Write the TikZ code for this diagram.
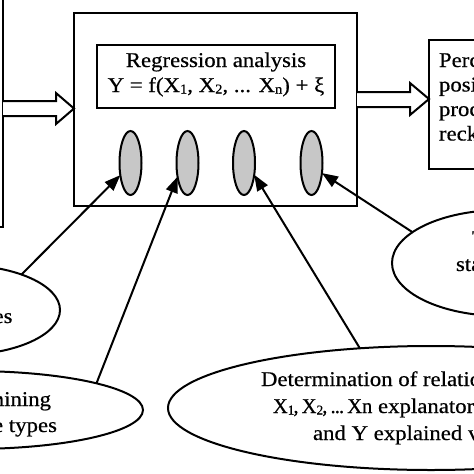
\documentclass[tikz,border=0pt]{standalone}
\usepackage{graphicx}
\usepackage{fontspec}
\setmainfont{Liberation Serif}[FakeStretch=1.085,FakeBold=0.5]
\usetikzlibrary{arrows.meta,shapes.geometric}
\newcommand\subx[1]{\raisebox{-1.5pt}{\fontsize{13.5}{13.5}\selectfont #1}}
\begin{document}
\begin{tikzpicture}[x=1pt,y=-1pt, line width=2pt,
  boxnode/.style={draw, rectangle, inner sep=0pt, outer sep=0pt, fill=white},
  gell/.style={draw, ellipse, fill=black!22, minimum width=22pt, minimum height=64pt, inner sep=0pt, outer sep=0pt},
  oval/.style={draw, ellipse, inner sep=0pt, outer sep=0pt, fill=white},
  txt/.style={inner sep=0pt, font=\fontsize{21}{25}\selectfont},
  conn/.style={-{Triangle[length=16pt,width=12pt]}, line width=2pt},
  barrow/.style={draw, fill=white, line width=2pt, line join=miter}]
\useasboundingbox (0,0) rectangle (474,474);
\fill[white] (0,0) rectangle (474,474);
\clip (0,0) rectangle (474,474);
% boxes
\node[boxnode, minimum width=100pt, minimum height=260pt] (src) at (-47,97) {};
\node[boxnode, minimum width=283pt, minimum height=193pt] (main) at (215.5,109.5) {};
\node[boxnode, minimum width=238pt, minimum height=63pt] (reg) at (216,76.5) {};
\node[boxnode, minimum width=140pt, minimum height=129pt] (res) at (499,104.5) {};
% block arrows
\coordinate (a1) at (src.east |- 0,101);
\coordinate (a2) at (main.east |- 0,92);
\draw[barrow] (a1) -- (56,101) -- (56,93) -- (main.west |- 0,108.5) -- (56,124) -- (56,116) -- (src.east |- 0,116);
\draw[barrow] (a2) -- (410,92) -- (410,83) -- (res.west |- 0,99) -- (410,115) -- (410,107) -- (main.east |- 0,107);
% gray ellipses
\node[gell] (g1) at (130.5,163) {};
\node[gell] (g2) at (187.5,163) {};
\node[gell] (g3) at (244,163) {};
\node[gell] (g4) at (311.5,163) {};
% ovals
\node[oval, minimum width=200pt, minimum height=90pt] (ov1) at (-40,310) {};
\node[oval, minimum width=344pt, minimum height=78pt] (ov2) at (-29,410) {};
\node[oval, minimum width=526pt, minimum height=124pt] (ov3) at (431,408) {};
\node[oval, minimum width=220pt, minimum height=106pt] (ov4) at (502,263) {};
% connectors
\draw[conn] (ov1.30) -- (g1.230);
\draw[conn] (ov2.12) -- (g2.234);
\draw[conn] (ov3.140) -- (g3.311);
\draw[conn] (ov4.161) -- (g4.316);
% texts
\node[txt, anchor=base] (r1) at (216,67) {Regression analysis};
\node[txt, anchor=base] (r2) at (216,92) {Y = f(X\subx{1}, X\subx{2}, ... X\subx{n}) + ξ};
\node[txt, anchor=base west] (p1) at (438,67) {Percentage of};
\node[txt, anchor=base west] (p2) at (438,91.5) {positive};
\node[txt, anchor=base west] (p3) at (438,116) {process};
\node[txt, anchor=base west] (p4) at (438,140.5) {reckoning};
\node[txt, anchor=base east] (t1) at (13.5,323) {variables};
\node[txt, anchor=base east] (t2) at (52,406) {Determining};
\node[txt, anchor=base east] (t3) at (58,432) {variable types};
\node[txt, anchor=base west] (t4) at (260,386) {Determination of relationship between};
\node[txt, anchor=base west] (t5) at (272,413) {\scalebox{0.9}[1]{X\subx{1}\kern-1pt,\hspace{3.5pt}X\subx{2}\kern-1pt,\hspace{3.5pt}.\kern-1pt.\kern-1pt.\hspace{3.5pt}Xn} explanatory variables};
\node[txt, anchor=base west] (t6) at (312,440) {and Y explained variables};
\node[txt, anchor=base west] (t7) at (471,245) {Testing};
\node[txt, anchor=base west] (t8) at (455,271) {statistical};
\end{tikzpicture}
\end{document}
